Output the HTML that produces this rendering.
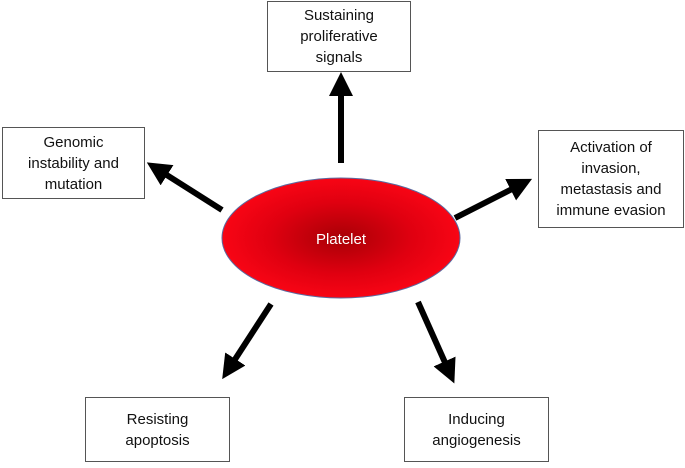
<!DOCTYPE html>
<html><head><style>
body{margin:0;background:#fff;}
.b{position:absolute;border:1.5px solid #555;background:#fff;box-sizing:border-box;display:flex;align-items:center;justify-content:center;text-align:center;font-family:"Liberation Sans",sans-serif;font-size:15px;line-height:21px;color:#111;}
</style></head><body>
<div style="position:relative;width:685px;height:468px;overflow:hidden">
<svg width="685" height="468" style="position:absolute;left:0;top:0">
<defs>
<radialGradient id="g" cx="50%" cy="50%" r="50%">
<stop offset="0" stop-color="#a80006"/><stop offset="0.6" stop-color="#e00010"/><stop offset="1" stop-color="#f80515"/>
</radialGradient>
<marker id="a" markerWidth="4" markerHeight="4" refX="1" refY="2" orient="auto" markerUnits="strokeWidth">
<path d="M0,0 L4,2 L0,4 Z" fill="#000"/></marker>
</defs>
<ellipse cx="341" cy="238" rx="119" ry="60" fill="url(#g)" stroke="#5a6aa0" stroke-width="1"/>
<text x="341" y="244" font-family="Liberation Sans,sans-serif" font-size="15" fill="#fff" text-anchor="middle">Platelet</text>
<g stroke="#000" stroke-width="6" marker-end="url(#a)">
<line x1="341" y1="163" x2="341" y2="90"/>
<line x1="222" y1="210" x2="162" y2="172"/>
<line x1="455" y1="218" x2="516" y2="187"/>
<line x1="271" y1="304" x2="232" y2="364"/>
<line x1="418" y1="302" x2="447" y2="367"/>
</g>
</svg>
<div class="b" style="left:267px;top:1px;width:144px;height:71px">Sustaining<br>proliferative<br>signals</div>
<div class="b" style="left:2px;top:127px;width:143px;height:72px">Genomic<br>instability and<br>mutation</div>
<div class="b" style="left:538px;top:130px;width:146px;height:98px">Activation of<br>invasion,<br>metastasis and<br>immune evasion</div>
<div class="b" style="left:85px;top:397px;width:145px;height:65px">Resisting<br>apoptosis</div>
<div class="b" style="left:404px;top:397px;width:145px;height:65px">Inducing<br>angiogenesis</div>
</div>
</body></html>
